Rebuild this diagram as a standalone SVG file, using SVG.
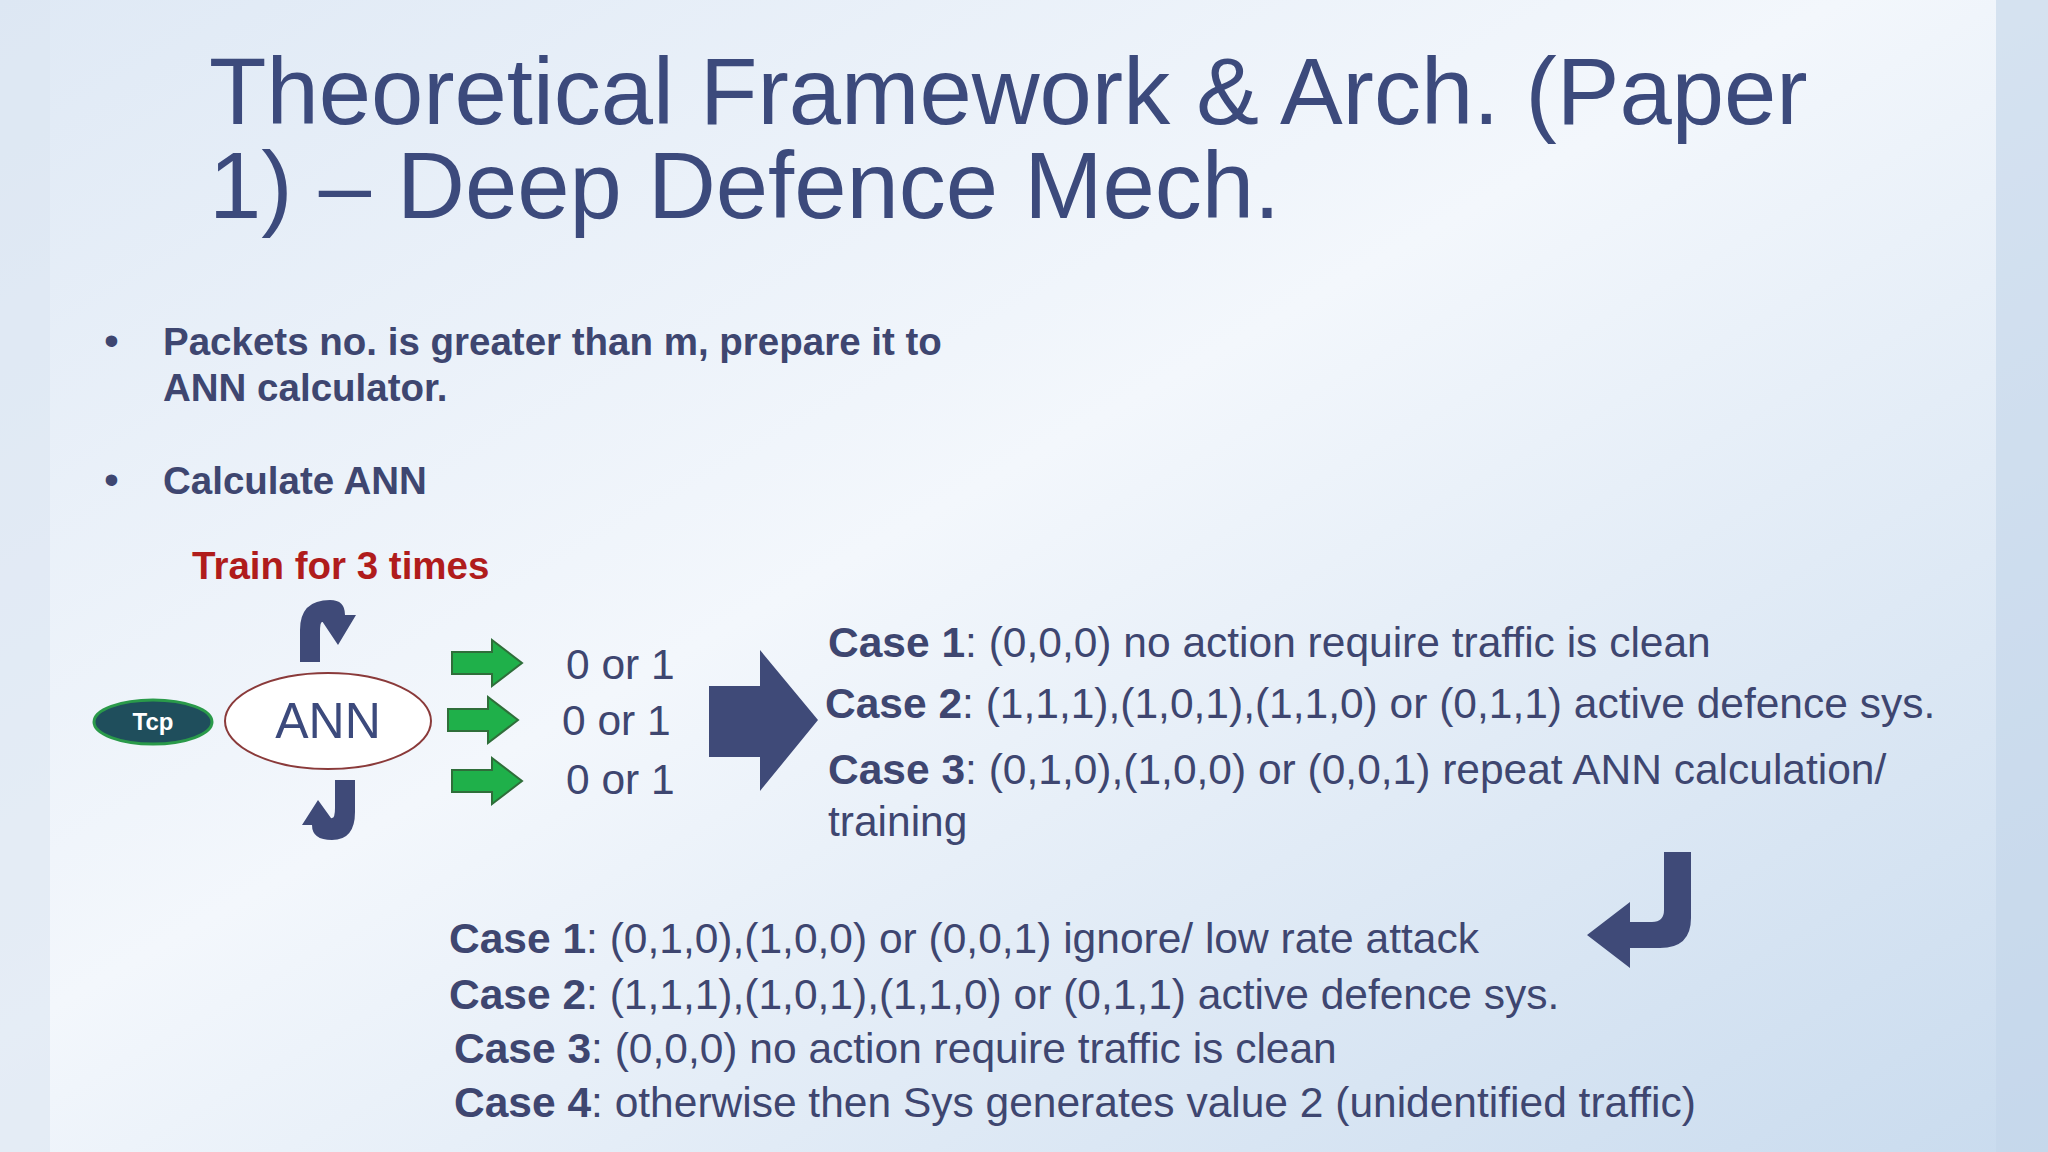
<svg xmlns="http://www.w3.org/2000/svg" width="2048" height="1152" viewBox="0 0 2048 1152">
<defs>
<linearGradient id="bg" x1="0" y1="0" x2="1" y2="1">
<stop offset="0" stop-color="#dfe9f5"/><stop offset="0.45" stop-color="#f3f7fc"/><stop offset="1" stop-color="#c9dbee"/>
</linearGradient>
<style>
.t{font-family:"Liberation Sans",Arial,sans-serif;fill:#3c4a7c}
.b{font-family:"Liberation Sans",Arial,sans-serif;font-weight:bold;fill:#3e4670;font-size:38.5px}
.c{font-family:"Liberation Sans",Arial,sans-serif;fill:#3e4670;font-size:42.5px}
.g{fill:#1fb04a;stroke:#2f6e3a;stroke-width:2}
.n{fill:#3f4a78}
</style>
</defs>
<rect width="2048" height="1152" fill="url(#bg)"/>
<rect x="0" y="0" width="50" height="1152" fill="#dce6f2" opacity="0.6"/>
<rect x="1996" y="0" width="52" height="1152" fill="#c3d5ea" opacity="0.6"/>
<text class="t" x="209" y="124" font-size="94">Theoretical Framework &amp; Arch. (Paper</text>
<text class="t" x="209" y="218" font-size="94">1) – Deep Defence Mech.</text>
<text class="c" x="104" y="355" font-size="30">•</text>
<text class="b" x="163" y="355">Packets no. is greater than m, prepare it to</text>
<text class="b" x="163" y="401">ANN calculator.</text>
<text class="c" x="104" y="494" font-size="30">•</text>
<text class="b" x="163" y="494">Calculate ANN</text>
<text class="b" x="192" y="579" style="fill:#b01c1c">Train for 3 times</text>
<g id="tcp"><ellipse cx="153" cy="722" rx="59" ry="22" fill="#1f4e5c" stroke="#2a9a4a" stroke-width="3"/>
<text x="153" y="730" text-anchor="middle" font-family="Liberation Sans,Arial,sans-serif" font-weight="bold" font-size="24" fill="#fff">Tcp</text></g>
<g id="ann"><ellipse cx="328" cy="721" rx="103" ry="48" fill="#fff" stroke="#8a3a3a" stroke-width="2"/>
<text x="328" y="738" text-anchor="middle" class="t" font-size="50">ANN</text></g>
<g id="connectors">
<path class="n" d="M300 662 L300 630 Q300 600 330 600 Q345 600 345 615 L356 615 L338 645 L318 615 L328 615 Q328 622 322 622 Q320 622 320 632 L320 662 Z"/>
<path class="n" d="M355 780 L355 812 Q355 840 332 840 Q312 840 312 825 L302 825 L318 800 L336 825 L328 825 Q328 818 332 818 Q335 818 335 808 L335 780 Z"/>
<path class="g" d="M452 652 L492 652 L492 640 L522 663 L492 686 L492 674 L452 674 Z"/>
<path class="g" d="M448 709 L488 709 L488 697 L518 720 L488 743 L488 731 L448 731 Z"/>
<path class="g" d="M452 770 L492 770 L492 758 L522 781 L492 804 L492 792 L452 792 Z"/>
<path class="n" d="M709 686 L760 686 L760 650 L818 720 L760 791 L760 757 L709 757 Z"/>
<path class="n" d="M1664 852 L1691 852 L1691 918 Q1691 948 1660 948 L1630 948 L1630 968 L1587 935 L1630 902 L1630 922 L1652 922 Q1664 922 1664 910 Z"/>
</g>
<text class="c" x="566" y="679">0 or 1</text>
<text class="c" x="562" y="735">0 or 1</text>
<text class="c" x="566" y="794">0 or 1</text>
<text class="c" x="828" y="657"><tspan font-weight="bold">Case 1</tspan>: (0,0,0) no action require traffic is clean</text>
<text class="c" x="825" y="718"><tspan font-weight="bold">Case 2</tspan>: (1,1,1),(1,0,1),(1,1,0) or (0,1,1) active defence sys.</text>
<text class="c" x="828" y="784"><tspan font-weight="bold">Case 3</tspan>: (0,1,0),(1,0,0) or (0,0,1) repeat ANN calculation/</text>
<text class="c" x="828" y="836">training</text>
<text class="c" x="449" y="953"><tspan font-weight="bold">Case 1</tspan>: (0,1,0),(1,0,0) or (0,0,1) ignore/ low rate attack</text>
<text class="c" x="449" y="1009"><tspan font-weight="bold">Case 2</tspan>: (1,1,1),(1,0,1),(1,1,0) or (0,1,1) active defence sys.</text>
<text class="c" x="454" y="1063"><tspan font-weight="bold">Case 3</tspan>: (0,0,0) no action require traffic is clean</text>
<text class="c" x="454" y="1117"><tspan font-weight="bold">Case 4</tspan>: otherwise then Sys generates value 2 (unidentified traffic)</text>
</svg>
